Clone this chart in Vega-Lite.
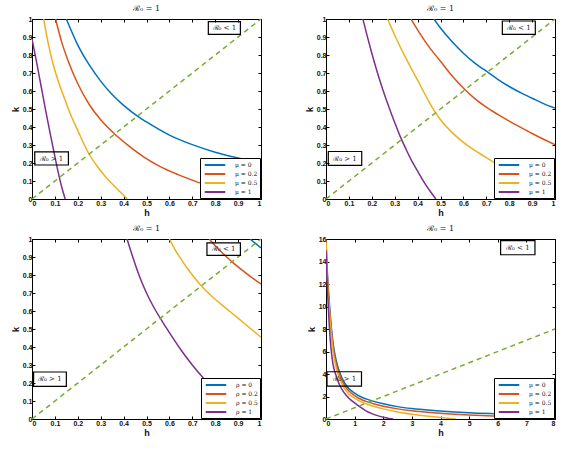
{
  "$schema": "https://vega.github.io/schema/vega-lite/v6.json",
  "padding": {"left": 10, "top": 4, "right": 4, "bottom": 4},
  "datasets": {
    "curves": [
      {"p": 1, "mu": "0", "h": 0.15, "k": 1}, {"p": 1, "mu": "0", "h": 0.2, "k": 0.855}, {"p": 1, "mu": "0", "h": 0.25, "k": 0.745},
      {"p": 1, "mu": "0", "h": 0.3, "k": 0.655}, {"p": 1, "mu": "0", "h": 0.35, "k": 0.58}, {"p": 1, "mu": "0", "h": 0.4, "k": 0.52},
      {"p": 1, "mu": "0", "h": 0.467, "k": 0.455}, {"p": 1, "mu": "0", "h": 0.5, "k": 0.428}, {"p": 1, "mu": "0", "h": 0.6, "k": 0.355},
      {"p": 1, "mu": "0", "h": 0.7, "k": 0.302}, {"p": 1, "mu": "0", "h": 0.8, "k": 0.26}, {"p": 1, "mu": "0", "h": 0.9, "k": 0.228},
      {"p": 1, "mu": "0", "h": 1, "k": 0.202},
      {"p": 1, "mu": "0.2", "h": 0.103, "k": 1}, {"p": 1, "mu": "0.2", "h": 0.13, "k": 0.87}, {"p": 1, "mu": "0.2", "h": 0.16, "k": 0.76},
      {"p": 1, "mu": "0.2", "h": 0.2, "k": 0.64}, {"p": 1, "mu": "0.2", "h": 0.25, "k": 0.525}, {"p": 1, "mu": "0.2", "h": 0.3, "k": 0.44},
      {"p": 1, "mu": "0.2", "h": 0.362, "k": 0.36}, {"p": 1, "mu": "0.2", "h": 0.42, "k": 0.298}, {"p": 1, "mu": "0.2", "h": 0.489, "k": 0.233},
      {"p": 1, "mu": "0.2", "h": 0.56, "k": 0.18}, {"p": 1, "mu": "0.2", "h": 0.635, "k": 0.137}, {"p": 1, "mu": "0.2", "h": 0.7, "k": 0.105},
      {"p": 1, "mu": "0.2", "h": 0.78, "k": 0.07}, {"p": 1, "mu": "0.2", "h": 0.86, "k": 0.042}, {"p": 1, "mu": "0.2", "h": 0.926, "k": 0.021},
      {"p": 1, "mu": "0.2", "h": 1, "k": 0},
      {"p": 1, "mu": "0.5", "h": 0.051, "k": 1}, {"p": 1, "mu": "0.5", "h": 0.07, "k": 0.87}, {"p": 1, "mu": "0.5", "h": 0.092, "k": 0.75},
      {"p": 1, "mu": "0.5", "h": 0.12, "k": 0.635}, {"p": 1, "mu": "0.5", "h": 0.143, "k": 0.555}, {"p": 1, "mu": "0.5", "h": 0.17, "k": 0.465},
      {"p": 1, "mu": "0.5", "h": 0.2, "k": 0.38}, {"p": 1, "mu": "0.5", "h": 0.249, "k": 0.25}, {"p": 1, "mu": "0.5", "h": 0.28, "k": 0.19},
      {"p": 1, "mu": "0.5", "h": 0.32, "k": 0.125}, {"p": 1, "mu": "0.5", "h": 0.37, "k": 0.058}, {"p": 1, "mu": "0.5", "h": 0.416, "k": 0},
      {"p": 1, "mu": "1", "h": 0, "k": 0.89}, {"p": 1, "mu": "1", "h": 0.02, "k": 0.76}, {"p": 1, "mu": "1", "h": 0.04, "k": 0.625},
      {"p": 1, "mu": "1", "h": 0.06, "k": 0.49}, {"p": 1, "mu": "1", "h": 0.08, "k": 0.36}, {"p": 1, "mu": "1", "h": 0.1, "k": 0.235},
      {"p": 1, "mu": "1", "h": 0.115, "k": 0.145}, {"p": 1, "mu": "1", "h": 0.13, "k": 0.065}, {"p": 1, "mu": "1", "h": 0.145, "k": 0},

      {"p": 2, "mu": "0", "h": 0.471, "k": 1}, {"p": 2, "mu": "0", "h": 0.5, "k": 0.95}, {"p": 2, "mu": "0", "h": 0.55, "k": 0.875},
      {"p": 2, "mu": "0", "h": 0.6, "k": 0.81}, {"p": 2, "mu": "0", "h": 0.65, "k": 0.755}, {"p": 2, "mu": "0", "h": 0.709, "k": 0.702},
      {"p": 2, "mu": "0", "h": 0.75, "k": 0.665}, {"p": 2, "mu": "0", "h": 0.8, "k": 0.625}, {"p": 2, "mu": "0", "h": 0.858, "k": 0.585},
      {"p": 2, "mu": "0", "h": 0.9, "k": 0.56}, {"p": 2, "mu": "0", "h": 0.95, "k": 0.53}, {"p": 2, "mu": "0", "h": 1, "k": 0.505},
      {"p": 2, "mu": "0.2", "h": 0.371, "k": 1}, {"p": 2, "mu": "0.2", "h": 0.4, "k": 0.94}, {"p": 2, "mu": "0.2", "h": 0.45, "k": 0.845},
      {"p": 2, "mu": "0.2", "h": 0.5, "k": 0.765}, {"p": 2, "mu": "0.2", "h": 0.55, "k": 0.685}, {"p": 2, "mu": "0.2", "h": 0.605, "k": 0.61},
      {"p": 2, "mu": "0.2", "h": 0.65, "k": 0.558}, {"p": 2, "mu": "0.2", "h": 0.7, "k": 0.51}, {"p": 2, "mu": "0.2", "h": 0.75, "k": 0.47},
      {"p": 2, "mu": "0.2", "h": 0.8, "k": 0.433}, {"p": 2, "mu": "0.2", "h": 0.85, "k": 0.398}, {"p": 2, "mu": "0.2", "h": 0.9, "k": 0.364},
      {"p": 2, "mu": "0.2", "h": 0.95, "k": 0.332}, {"p": 2, "mu": "0.2", "h": 1, "k": 0.302},
      {"p": 2, "mu": "0.5", "h": 0.269, "k": 1}, {"p": 2, "mu": "0.5", "h": 0.3, "k": 0.91}, {"p": 2, "mu": "0.5", "h": 0.35, "k": 0.78},
      {"p": 2, "mu": "0.5", "h": 0.4, "k": 0.66}, {"p": 2, "mu": "0.5", "h": 0.45, "k": 0.54}, {"p": 2, "mu": "0.5", "h": 0.478, "k": 0.48},
      {"p": 2, "mu": "0.5", "h": 0.5, "k": 0.44}, {"p": 2, "mu": "0.5", "h": 0.55, "k": 0.37}, {"p": 2, "mu": "0.5", "h": 0.6, "k": 0.315},
      {"p": 2, "mu": "0.5", "h": 0.65, "k": 0.27}, {"p": 2, "mu": "0.5", "h": 0.7, "k": 0.23}, {"p": 2, "mu": "0.5", "h": 0.75, "k": 0.19},
      {"p": 2, "mu": "0.5", "h": 0.8, "k": 0.15}, {"p": 2, "mu": "0.5", "h": 0.858, "k": 0.107}, {"p": 2, "mu": "0.5", "h": 0.9, "k": 0.075},
      {"p": 2, "mu": "0.5", "h": 0.95, "k": 0.037}, {"p": 2, "mu": "0.5", "h": 1, "k": 0},
      {"p": 2, "mu": "1", "h": 0.161, "k": 1}, {"p": 2, "mu": "1", "h": 0.18, "k": 0.905}, {"p": 2, "mu": "1", "h": 0.2, "k": 0.81},
      {"p": 2, "mu": "1", "h": 0.225, "k": 0.7}, {"p": 2, "mu": "1", "h": 0.25, "k": 0.6}, {"p": 2, "mu": "1", "h": 0.275, "k": 0.51},
      {"p": 2, "mu": "1", "h": 0.3, "k": 0.425}, {"p": 2, "mu": "1", "h": 0.325, "k": 0.345}, {"p": 2, "mu": "1", "h": 0.35, "k": 0.275},
      {"p": 2, "mu": "1", "h": 0.375, "k": 0.21}, {"p": 2, "mu": "1", "h": 0.4, "k": 0.155}, {"p": 2, "mu": "1", "h": 0.43, "k": 0.09},
      {"p": 2, "mu": "1", "h": 0.455, "k": 0.043}, {"p": 2, "mu": "1", "h": 0.48, "k": 0},

      {"p": 3, "mu": "0", "h": 0.952, "k": 1}, {"p": 3, "mu": "0", "h": 1, "k": 0.95},
      {"p": 3, "mu": "0.2", "h": 0.774, "k": 1}, {"p": 3, "mu": "0.2", "h": 0.8, "k": 0.963}, {"p": 3, "mu": "0.2", "h": 0.85, "k": 0.9},
      {"p": 3, "mu": "0.2", "h": 0.876, "k": 0.87}, {"p": 3, "mu": "0.2", "h": 0.9, "k": 0.845}, {"p": 3, "mu": "0.2", "h": 0.95, "k": 0.795},
      {"p": 3, "mu": "0.2", "h": 1, "k": 0.75},
      {"p": 3, "mu": "0.5", "h": 0.6, "k": 1}, {"p": 3, "mu": "0.5", "h": 0.625, "k": 0.94}, {"p": 3, "mu": "0.5", "h": 0.65, "k": 0.89},
      {"p": 3, "mu": "0.5", "h": 0.7, "k": 0.8}, {"p": 3, "mu": "0.5", "h": 0.738, "k": 0.742}, {"p": 3, "mu": "0.5", "h": 0.8, "k": 0.665},
      {"p": 3, "mu": "0.5", "h": 0.85, "k": 0.612}, {"p": 3, "mu": "0.5", "h": 0.9, "k": 0.56}, {"p": 3, "mu": "0.5", "h": 0.95, "k": 0.507},
      {"p": 3, "mu": "0.5", "h": 1, "k": 0.455},
      {"p": 3, "mu": "1", "h": 0.415, "k": 1}, {"p": 3, "mu": "1", "h": 0.44, "k": 0.9}, {"p": 3, "mu": "1", "h": 0.47, "k": 0.79},
      {"p": 3, "mu": "1", "h": 0.5, "k": 0.7}, {"p": 3, "mu": "1", "h": 0.53, "k": 0.625}, {"p": 3, "mu": "1", "h": 0.566, "k": 0.548},
      {"p": 3, "mu": "1", "h": 0.6, "k": 0.48}, {"p": 3, "mu": "1", "h": 0.65, "k": 0.385}, {"p": 3, "mu": "1", "h": 0.7, "k": 0.3},
      {"p": 3, "mu": "1", "h": 0.75, "k": 0.225}, {"p": 3, "mu": "1", "h": 0.8, "k": 0.16}, {"p": 3, "mu": "1", "h": 0.85, "k": 0.1},
      {"p": 3, "mu": "1", "h": 0.9, "k": 0.045}, {"p": 3, "mu": "1", "h": 0.942, "k": 0},

      {"p": 4, "mu": "0", "h": 0, "k": 16}, {"p": 4, "mu": "0", "h": 0.02, "k": 14.6}, {"p": 4, "mu": "0", "h": 0.05, "k": 12.9},
      {"p": 4, "mu": "0", "h": 0.1, "k": 10.9}, {"p": 4, "mu": "0", "h": 0.15, "k": 9.2}, {"p": 4, "mu": "0", "h": 0.2, "k": 7.8},
      {"p": 4, "mu": "0", "h": 0.25, "k": 6.7}, {"p": 4, "mu": "0", "h": 0.3, "k": 5.9}, {"p": 4, "mu": "0", "h": 0.4, "k": 4.75},
      {"p": 4, "mu": "0", "h": 0.5, "k": 4.0}, {"p": 4, "mu": "0", "h": 0.65, "k": 3.2}, {"p": 4, "mu": "0", "h": 0.8, "k": 2.7},
      {"p": 4, "mu": "0", "h": 1, "k": 2.3}, {"p": 4, "mu": "0", "h": 1.25, "k": 1.93}, {"p": 4, "mu": "0", "h": 1.5, "k": 1.7},
      {"p": 4, "mu": "0", "h": 2, "k": 1.35}, {"p": 4, "mu": "0", "h": 2.5, "k": 1.1}, {"p": 4, "mu": "0", "h": 3, "k": 0.93},
      {"p": 4, "mu": "0", "h": 3.75, "k": 0.76}, {"p": 4, "mu": "0", "h": 4.5, "k": 0.63}, {"p": 4, "mu": "0", "h": 5, "k": 0.56},
      {"p": 4, "mu": "0", "h": 6, "k": 0.46}, {"p": 4, "mu": "0", "h": 7, "k": 0.37}, {"p": 4, "mu": "0", "h": 8, "k": 0.29},
      {"p": 4, "mu": "0.2", "h": 0, "k": 15.9}, {"p": 4, "mu": "0.2", "h": 0.02, "k": 14.4}, {"p": 4, "mu": "0.2", "h": 0.05, "k": 12.6},
      {"p": 4, "mu": "0.2", "h": 0.1, "k": 10.6}, {"p": 4, "mu": "0.2", "h": 0.15, "k": 8.9}, {"p": 4, "mu": "0.2", "h": 0.2, "k": 7.5},
      {"p": 4, "mu": "0.2", "h": 0.25, "k": 6.4}, {"p": 4, "mu": "0.2", "h": 0.3, "k": 5.6}, {"p": 4, "mu": "0.2", "h": 0.4, "k": 4.5},
      {"p": 4, "mu": "0.2", "h": 0.5, "k": 3.75}, {"p": 4, "mu": "0.2", "h": 0.65, "k": 2.97}, {"p": 4, "mu": "0.2", "h": 0.8, "k": 2.48},
      {"p": 4, "mu": "0.2", "h": 1, "k": 2.08}, {"p": 4, "mu": "0.2", "h": 1.25, "k": 1.71}, {"p": 4, "mu": "0.2", "h": 1.5, "k": 1.48},
      {"p": 4, "mu": "0.2", "h": 2, "k": 1.14}, {"p": 4, "mu": "0.2", "h": 2.5, "k": 0.9}, {"p": 4, "mu": "0.2", "h": 3, "k": 0.73},
      {"p": 4, "mu": "0.2", "h": 3.75, "k": 0.56}, {"p": 4, "mu": "0.2", "h": 4.5, "k": 0.43}, {"p": 4, "mu": "0.2", "h": 5, "k": 0.36},
      {"p": 4, "mu": "0.2", "h": 6, "k": 0.25}, {"p": 4, "mu": "0.2", "h": 7, "k": 0.16}, {"p": 4, "mu": "0.2", "h": 8, "k": 0.08},
      {"p": 4, "mu": "0.5", "h": 0, "k": 15.7}, {"p": 4, "mu": "0.5", "h": 0.02, "k": 14.2}, {"p": 4, "mu": "0.5", "h": 0.05, "k": 12.3},
      {"p": 4, "mu": "0.5", "h": 0.1, "k": 10.2}, {"p": 4, "mu": "0.5", "h": 0.15, "k": 8.5}, {"p": 4, "mu": "0.5", "h": 0.2, "k": 7.1},
      {"p": 4, "mu": "0.5", "h": 0.25, "k": 6.0}, {"p": 4, "mu": "0.5", "h": 0.3, "k": 5.2}, {"p": 4, "mu": "0.5", "h": 0.4, "k": 4.15},
      {"p": 4, "mu": "0.5", "h": 0.5, "k": 3.45}, {"p": 4, "mu": "0.5", "h": 0.65, "k": 2.7}, {"p": 4, "mu": "0.5", "h": 0.8, "k": 2.22},
      {"p": 4, "mu": "0.5", "h": 1, "k": 1.85}, {"p": 4, "mu": "0.5", "h": 1.25, "k": 1.5}, {"p": 4, "mu": "0.5", "h": 1.5, "k": 1.26},
      {"p": 4, "mu": "0.5", "h": 2, "k": 0.9}, {"p": 4, "mu": "0.5", "h": 2.5, "k": 0.63}, {"p": 4, "mu": "0.5", "h": 3, "k": 0.43},
      {"p": 4, "mu": "0.5", "h": 3.5, "k": 0.27}, {"p": 4, "mu": "0.5", "h": 4, "k": 0.13}, {"p": 4, "mu": "0.5", "h": 4.53, "k": 0},
      {"p": 4, "mu": "1", "h": 0, "k": 15}, {"p": 4, "mu": "1", "h": 0.03, "k": 12.9}, {"p": 4, "mu": "1", "h": 0.06, "k": 11.0},
      {"p": 4, "mu": "1", "h": 0.1, "k": 9.0}, {"p": 4, "mu": "1", "h": 0.15, "k": 7.0}, {"p": 4, "mu": "1", "h": 0.2, "k": 5.7},
      {"p": 4, "mu": "1", "h": 0.25, "k": 4.8}, {"p": 4, "mu": "1", "h": 0.34, "k": 3.95}, {"p": 4, "mu": "1", "h": 0.4, "k": 3.5},
      {"p": 4, "mu": "1", "h": 0.48, "k": 3.0}, {"p": 4, "mu": "1", "h": 0.6, "k": 2.45}, {"p": 4, "mu": "1", "h": 0.8, "k": 1.85},
      {"p": 4, "mu": "1", "h": 1, "k": 1.43}, {"p": 4, "mu": "1", "h": 1.2, "k": 1.05}, {"p": 4, "mu": "1", "h": 1.41, "k": 0.7},
      {"p": 4, "mu": "1", "h": 1.6, "k": 0.48}, {"p": 4, "mu": "1", "h": 1.8, "k": 0.3}, {"p": 4, "mu": "1", "h": 2, "k": 0.15},
      {"p": 4, "mu": "1", "h": 2.2, "k": 0.05}, {"p": 4, "mu": "1", "h": 2.35, "k": 0}
    ],
    "diag": [
      {"p": 1, "h": 0, "k": 0}, {"p": 1, "h": 1, "k": 1},
      {"p": 2, "h": 0, "k": 0}, {"p": 2, "h": 1, "k": 1},
      {"p": 3, "h": 0, "k": 0}, {"p": 3, "h": 1, "k": 1},
      {"p": 4, "h": 0, "k": 0}, {"p": 4, "h": 8, "k": 8}
    ],
    "boxes": [
      {"p": 1, "label": "ℛ₀ < 1", "h1": 0.77, "h2": 0.91, "k1": 0.915, "k2": 0.985, "hm": 0.84, "km": 0.95},
      {"p": 1, "label": "ℛ₀ > 1", "h1": 0.012, "h2": 0.159, "k1": 0.189, "k2": 0.262, "hm": 0.085, "km": 0.225},
      {"p": 2, "label": "ℛ₀ < 1", "h1": 0.77, "h2": 0.914, "k1": 0.915, "k2": 0.989, "hm": 0.842, "km": 0.952},
      {"p": 2, "label": "ℛ₀ > 1", "h1": 0.01, "h2": 0.156, "k1": 0.187, "k2": 0.264, "hm": 0.083, "km": 0.225},
      {"p": 3, "label": "ℛ₀ < 1", "h1": 0.764, "h2": 0.91, "k1": 0.909, "k2": 0.978, "hm": 0.837, "km": 0.943},
      {"p": 3, "label": "ℛ₀ > 1", "h1": 0.007, "h2": 0.15, "k1": 0.181, "k2": 0.261, "hm": 0.078, "km": 0.221},
      {"p": 4, "label": "ℛ₀ < 1", "h1": 6.1, "h2": 7.3, "k1": 14.6, "k2": 15.86, "hm": 6.7, "km": 15.23},
      {"p": 4, "label": "ℛ₀ > 1", "h1": 0.035, "h2": 1.24, "k1": 2.92, "k2": 4.2, "hm": 0.64, "km": 3.56}
    ]
  },
  "columns": 2,
  "spacing": {"row": 6, "column": 39},
  "concat": [
    {
      "width": 229, "height": 180,
      "title": "ℛ₀ = 1",
      "layer": [
        {
          "data": {"name": "curves"}, "transform": [{"filter": "datum.p == 1"}],
          "mark": {"type": "line", "strokeWidth": 1.5, "clip": true, "interpolate": "monotone"},
          "encoding": {
            "x": {"field": "h", "type": "quantitative", "scale": {"domain": [0, 1], "nice": false}, "axis": {"title": "h", "values": [0, 0.1, 0.2, 0.3, 0.4, 0.5, 0.6, 0.7, 0.8, 0.9, 1]}},
            "y": {"field": "k", "type": "quantitative", "scale": {"domain": [0, 1], "nice": false}, "axis": {"title": "k", "values": [0, 0.1, 0.2, 0.3, 0.4, 0.5, 0.6, 0.7, 0.8, 0.9, 1]}},
            "color": {"field": "mu", "type": "nominal", "scale": {"domain": ["0", "0.2", "0.5", "1"], "range": ["#0072BD", "#D95319", "#EDB120", "#7E2F8E"]}, "legend": {"title": null, "labelExpr": "'μ = ' + datum.label"}}
          }
        },
        {
          "data": {"name": "diag"}, "transform": [{"filter": "datum.p == 1"}],
          "mark": {"type": "line", "color": "#77AC30", "strokeWidth": 1.5, "strokeDash": [5, 4]},
          "encoding": {
            "x": {"field": "h", "type": "quantitative", "axis": {"orient": "top", "labels": false, "title": null, "domain": false, "values": [0, 0.1, 0.2, 0.3, 0.4, 0.5, 0.6, 0.7, 0.8, 0.9, 1]}},
            "y": {"field": "k", "type": "quantitative", "axis": {"orient": "right", "labels": false, "title": null, "domain": false, "values": [0, 0.1, 0.2, 0.3, 0.4, 0.5, 0.6, 0.7, 0.8, 0.9, 1]}}
          }
        },
        {
          "data": {"name": "boxes"}, "transform": [{"filter": "datum.p == 1"}],
          "mark": {"type": "rect", "fillOpacity": 0, "stroke": "black", "strokeWidth": 1.2},
          "encoding": {
            "x": {"field": "h1", "type": "quantitative", "axis": null}, "x2": {"field": "h2"},
            "y": {"field": "k1", "type": "quantitative", "axis": null}, "y2": {"field": "k2"}
          }
        },
        {
          "data": {"name": "boxes"}, "transform": [{"filter": "datum.p == 1"}],
          "mark": {"type": "text", "font": "DejaVu Serif", "fontSize": 7, "color": "#222"},
          "encoding": {
            "x": {"field": "hm", "type": "quantitative", "axis": null},
            "y": {"field": "km", "type": "quantitative", "axis": null},
            "text": {"field": "label"}
          }
        }
      ],
      "resolve": {"axis": {"x": "independent", "y": "independent"}}
    },
    {
      "width": 229, "height": 180,
      "title": "ℛ₀ = 1",
      "layer": [
        {
          "data": {"name": "curves"}, "transform": [{"filter": "datum.p == 2"}],
          "mark": {"type": "line", "strokeWidth": 1.5, "clip": true, "interpolate": "monotone"},
          "encoding": {
            "x": {"field": "h", "type": "quantitative", "scale": {"domain": [0, 1], "nice": false}, "axis": {"title": "h", "values": [0, 0.1, 0.2, 0.3, 0.4, 0.5, 0.6, 0.7, 0.8, 0.9, 1]}},
            "y": {"field": "k", "type": "quantitative", "scale": {"domain": [0, 1], "nice": false}, "axis": {"title": "k", "values": [0, 0.1, 0.2, 0.3, 0.4, 0.5, 0.6, 0.7, 0.8, 0.9, 1]}},
            "color": {"field": "mu", "type": "nominal", "scale": {"domain": ["0", "0.2", "0.5", "1"], "range": ["#0072BD", "#D95319", "#EDB120", "#7E2F8E"]}, "legend": {"title": null, "labelExpr": "'μ = ' + datum.label"}}
          }
        },
        {
          "data": {"name": "diag"}, "transform": [{"filter": "datum.p == 2"}],
          "mark": {"type": "line", "color": "#77AC30", "strokeWidth": 1.5, "strokeDash": [5, 4]},
          "encoding": {
            "x": {"field": "h", "type": "quantitative", "axis": {"orient": "top", "labels": false, "title": null, "domain": false, "values": [0, 0.1, 0.2, 0.3, 0.4, 0.5, 0.6, 0.7, 0.8, 0.9, 1]}},
            "y": {"field": "k", "type": "quantitative", "axis": {"orient": "right", "labels": false, "title": null, "domain": false, "values": [0, 0.1, 0.2, 0.3, 0.4, 0.5, 0.6, 0.7, 0.8, 0.9, 1]}}
          }
        },
        {
          "data": {"name": "boxes"}, "transform": [{"filter": "datum.p == 2"}],
          "mark": {"type": "rect", "fillOpacity": 0, "stroke": "black", "strokeWidth": 1.2},
          "encoding": {
            "x": {"field": "h1", "type": "quantitative", "axis": null}, "x2": {"field": "h2"},
            "y": {"field": "k1", "type": "quantitative", "axis": null}, "y2": {"field": "k2"}
          }
        },
        {
          "data": {"name": "boxes"}, "transform": [{"filter": "datum.p == 2"}],
          "mark": {"type": "text", "font": "DejaVu Serif", "fontSize": 7, "color": "#222"},
          "encoding": {
            "x": {"field": "hm", "type": "quantitative", "axis": null},
            "y": {"field": "km", "type": "quantitative", "axis": null},
            "text": {"field": "label"}
          }
        }
      ],
      "resolve": {"axis": {"x": "independent", "y": "independent"}}
    },
    {
      "width": 229, "height": 180,
      "title": "ℛ₀ = 1",
      "layer": [
        {
          "data": {"name": "curves"}, "transform": [{"filter": "datum.p == 3"}],
          "mark": {"type": "line", "strokeWidth": 1.5, "clip": true, "interpolate": "monotone"},
          "encoding": {
            "x": {"field": "h", "type": "quantitative", "scale": {"domain": [0, 1], "nice": false}, "axis": {"title": "h", "values": [0, 0.1, 0.2, 0.3, 0.4, 0.5, 0.6, 0.7, 0.8, 0.9, 1]}},
            "y": {"field": "k", "type": "quantitative", "scale": {"domain": [0, 1], "nice": false}, "axis": {"title": "k", "values": [0, 0.1, 0.2, 0.3, 0.4, 0.5, 0.6, 0.7, 0.8, 0.9, 1]}},
            "color": {"field": "mu", "type": "nominal", "scale": {"domain": ["0", "0.2", "0.5", "1"], "range": ["#0072BD", "#D95319", "#EDB120", "#7E2F8E"]}, "legend": {"title": null, "labelExpr": "'ρ = ' + datum.label"}}
          }
        },
        {
          "data": {"name": "diag"}, "transform": [{"filter": "datum.p == 3"}],
          "mark": {"type": "line", "color": "#77AC30", "strokeWidth": 1.5, "strokeDash": [5, 4]},
          "encoding": {
            "x": {"field": "h", "type": "quantitative", "axis": {"orient": "top", "labels": false, "title": null, "domain": false, "values": [0, 0.1, 0.2, 0.3, 0.4, 0.5, 0.6, 0.7, 0.8, 0.9, 1]}},
            "y": {"field": "k", "type": "quantitative", "axis": {"orient": "right", "labels": false, "title": null, "domain": false, "values": [0, 0.1, 0.2, 0.3, 0.4, 0.5, 0.6, 0.7, 0.8, 0.9, 1]}}
          }
        },
        {
          "data": {"name": "boxes"}, "transform": [{"filter": "datum.p == 3"}],
          "mark": {"type": "rect", "fillOpacity": 0, "stroke": "black", "strokeWidth": 1.2},
          "encoding": {
            "x": {"field": "h1", "type": "quantitative", "axis": null}, "x2": {"field": "h2"},
            "y": {"field": "k1", "type": "quantitative", "axis": null}, "y2": {"field": "k2"}
          }
        },
        {
          "data": {"name": "boxes"}, "transform": [{"filter": "datum.p == 3"}],
          "mark": {"type": "text", "font": "DejaVu Serif", "fontSize": 7, "color": "#222"},
          "encoding": {
            "x": {"field": "hm", "type": "quantitative", "axis": null},
            "y": {"field": "km", "type": "quantitative", "axis": null},
            "text": {"field": "label"}
          }
        }
      ],
      "resolve": {"axis": {"x": "independent", "y": "independent"}}
    },
    {
      "width": 229, "height": 180,
      "title": "ℛ₀ = 1",
      "layer": [
        {
          "data": {"name": "curves"}, "transform": [{"filter": "datum.p == 4"}],
          "mark": {"type": "line", "strokeWidth": 1.5, "clip": true, "interpolate": "monotone"},
          "encoding": {
            "x": {"field": "h", "type": "quantitative", "scale": {"domain": [0, 8], "nice": false}, "axis": {"title": "h", "values": [0, 1, 2, 3, 4, 5, 6, 7, 8]}},
            "y": {"field": "k", "type": "quantitative", "scale": {"domain": [0, 16], "nice": false}, "axis": {"title": "k", "values": [0, 2, 4, 6, 8, 10, 12, 14, 16]}},
            "color": {"field": "mu", "type": "nominal", "scale": {"domain": ["0", "0.2", "0.5", "1"], "range": ["#0072BD", "#D95319", "#EDB120", "#7E2F8E"]}, "legend": {"title": null, "labelExpr": "'μ = ' + datum.label"}}
          }
        },
        {
          "data": {"name": "diag"}, "transform": [{"filter": "datum.p == 4"}],
          "mark": {"type": "line", "color": "#77AC30", "strokeWidth": 1.5, "strokeDash": [5, 4]},
          "encoding": {
            "x": {"field": "h", "type": "quantitative", "axis": {"orient": "top", "labels": false, "title": null, "domain": false, "values": [0, 1, 2, 3, 4, 5, 6, 7, 8]}},
            "y": {"field": "k", "type": "quantitative", "axis": {"orient": "right", "labels": false, "title": null, "domain": false, "values": [0, 2, 4, 6, 8, 10, 12, 14, 16]}}
          }
        },
        {
          "data": {"name": "boxes"}, "transform": [{"filter": "datum.p == 4"}],
          "mark": {"type": "rect", "fillOpacity": 0, "stroke": "black", "strokeWidth": 1.2},
          "encoding": {
            "x": {"field": "h1", "type": "quantitative", "axis": null}, "x2": {"field": "h2"},
            "y": {"field": "k1", "type": "quantitative", "axis": null}, "y2": {"field": "k2"}
          }
        },
        {
          "data": {"name": "boxes"}, "transform": [{"filter": "datum.p == 4"}],
          "mark": {"type": "text", "font": "DejaVu Serif", "fontSize": 7, "color": "#222"},
          "encoding": {
            "x": {"field": "hm", "type": "quantitative", "axis": null},
            "y": {"field": "km", "type": "quantitative", "axis": null},
            "text": {"field": "label"}
          }
        }
      ],
      "resolve": {"axis": {"x": "independent", "y": "independent"}}
    }
  ],
  "resolve": {"scale": {"color": "independent"}, "legend": {"color": "independent"}},
  "config": {
    "view": {"stroke": "black", "strokeWidth": 1},
    "axis": {
      "grid": false, "format": "~g",
      "labelFont": "Liberation Sans", "labelFontSize": 7, "labelFontWeight": "bold", "labelColor": "#111",
      "tickColor": "#000", "tickSize": -3, "labelPadding": 3, "domainColor": "#000",
      "titleFont": "Liberation Sans", "titleFontSize": 9, "titleFontWeight": "bold", "titleColor": "#111", "titlePadding": 2
    },
    "title": {"font": "DejaVu Serif", "fontSize": 8, "fontWeight": "normal", "color": "#111", "offset": 2},
    "legend": {
      "orient": "bottom-right", "offset": 1, "strokeColor": "black", "fillColor": "white", "padding": 2,
      "symbolType": "M-2.9,0H2.9", "symbolStrokeWidth": 2, "symbolSize": 50, "symbolOffset": 8, "labelOffset": 15,
      "labelFont": "DejaVu Serif", "labelFontSize": 6, "labelColor": "#111", "rowPadding": 0
    }
  }
}
